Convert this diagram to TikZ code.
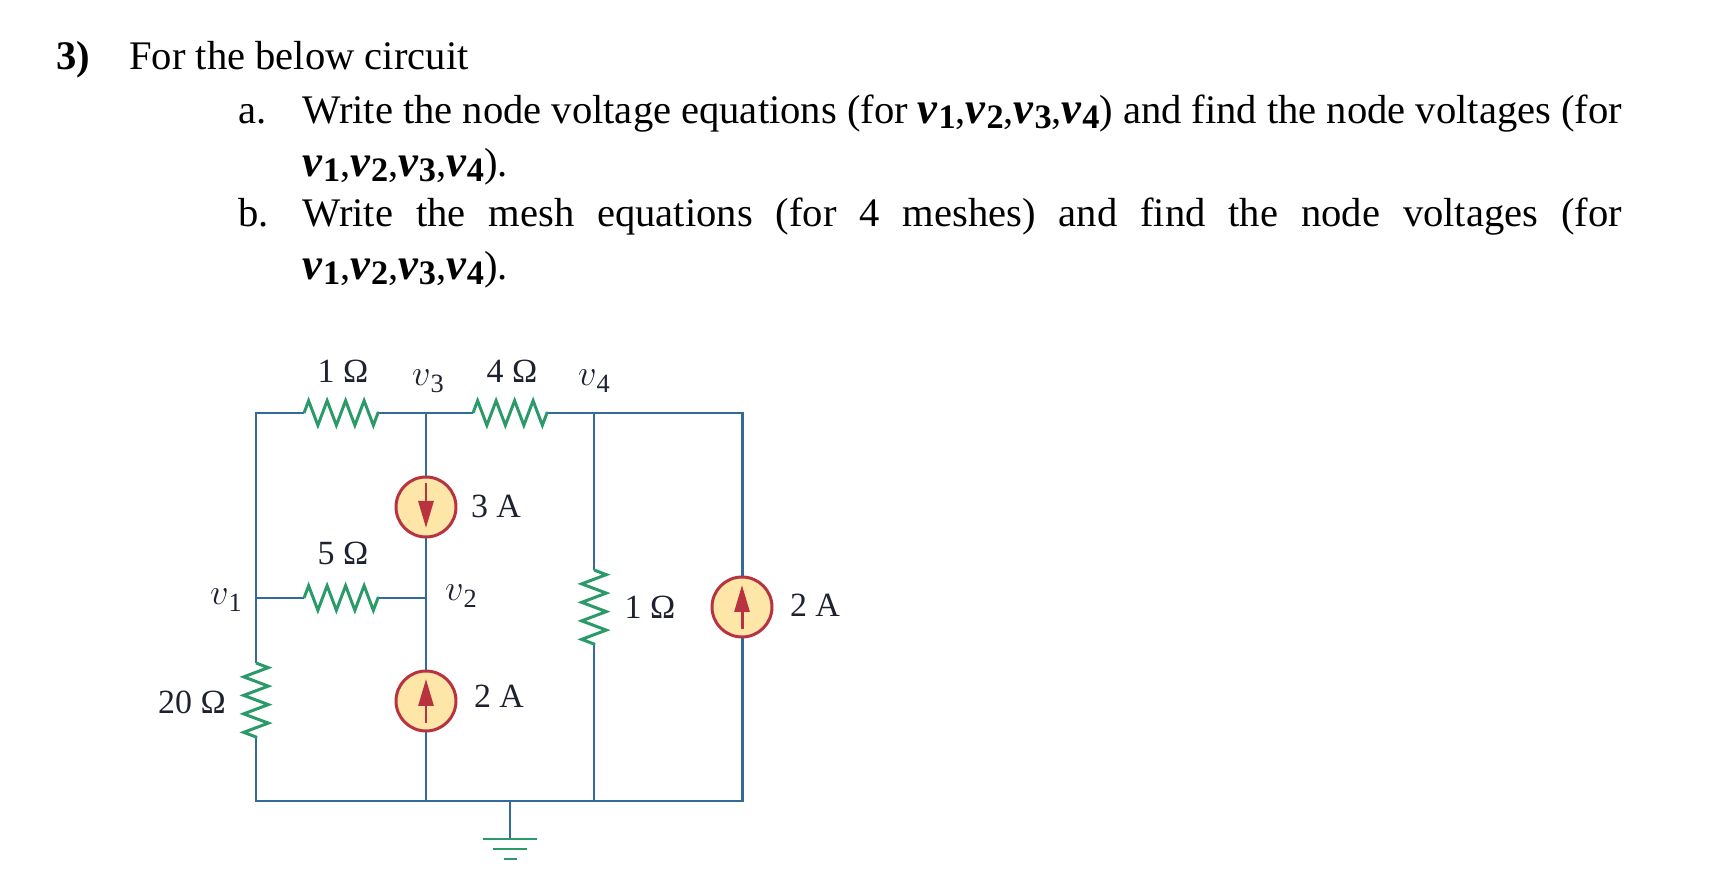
\documentclass[tikz,border=0pt]{standalone}
\usepackage{fontspec}
\setmainfont{Liberation Serif}
\usetikzlibrary{arrows.meta,decorations.pathmorphing}
\definecolor{wireblue}{HTML}{336A98}
\definecolor{resgreen}{HTML}{2A9A68}
\definecolor{srcred}{HTML}{B8323F}
\definecolor{srcfill}{HTML}{FDE6A8}
\definecolor{labelink}{HTML}{1E2230}
\newcommand{\bv}[1]{{\bfseries\itshape{\fontsize{25.5}{27}\selectfont v}\hspace{0.02em}\raisebox{-0.1em}{\fontsize{19.5}{20}\selectfont\upshape #1}}}
\newcommand{\bvlist}{\bv{1},\bv{2},\bv{3},\bv{4}}
\newcommand{\nv}[1]{$v$\raisebox{-0.2em}{\fontsize{15}{16}\selectfont #1}}
\tikzset{
  probtext/.style={anchor=base west, inner sep=0pt, font=\fontsize{23.1}{27}\selectfont},
  cirlabel/.style={inner sep=0pt, text=labelink, font=\fontsize{19.3}{22}\selectfont},
  wire/.style={draw=wireblue, line width=1.7pt},
  resistor/.style={draw=resgreen, line width=1.7pt, decorate,
    decoration={zigzag, segment length=0.37cm, amplitude=0.246cm}},
  isrc/.style={circle, draw=srcred, fill=srcfill, line width=1.7pt, minimum size=1.2cm, inner sep=0pt},
  srcarrow/.style={draw=srcred, fill=srcred, line width=1.7pt, -{Triangle[length=0.54cm, width=0.3cm]}},
  gndbar/.style={draw=resgreen, line width=1.7pt}
}
\begin{document}
\begin{tikzpicture}[x=0.02cm, y=-0.02cm]
   \useasboundingbox (0,0) rectangle (1732,884);
   % question text
   \node[probtext, font=\fontsize{23.1}{27}\selectfont\bfseries] (qnum) at (56,70) {3)};
   \node[probtext] (qhead) at (129,70) {For the below circuit};
   \node[probtext] (amark) at (238,124) {a.};
   \node[probtext] (aline) at (302,124) {\makebox[26.4cm][s]{Write the node voltage equations (for \bvlist) and find the node voltages (for}};
   \node[probtext] (alist) at (302,177) {\bvlist).};
   \node[probtext] (bmark) at (238,227) {b.};
   \node[probtext] (bline) at (302,227) {\makebox[26.4cm][s]{Write the mesh equations (for 4 meshes) and find the node voltages (for}};
   \node[probtext] (blist) at (302,280) {\bvlist).};
   % circuit junctions
   \coordinate (tl) at (256,413);
   \coordinate (n3) at (426,413);
   \coordinate (n4) at (594,413);
   \coordinate (tr) at (742,413);
   \coordinate (n1) at (256,598);
   \coordinate (n2) at (426,598);
   \coordinate (bl) at (256,801);
   \coordinate (bm) at (426,801);
   \coordinate (bg) at (510,801);
   \coordinate (bn) at (594,801);
   \coordinate (br) at (742,801);
   % resistor ends
   \coordinate (r1a) at (304,413);
   \coordinate (r1b) at (379,413);
   \coordinate (r4a) at (473,413);
   \coordinate (r4b) at (548,413);
   \coordinate (r5a) at (304,598);
   \coordinate (r5b) at (379,598);
   \coordinate (r20a) at (256,663);
   \coordinate (r20b) at (256,738);
   \coordinate (r1va) at (594,570);
   \coordinate (r1vb) at (594,645);
   % sources
   \node[isrc] (sa) at (426,507) {};
   \node[isrc] (sb) at (426,701) {};
   \node[isrc] (sc) at (742,607) {};
   % wires
   \draw[wire] (r1a) -- (tl) -- (r20a);
   \draw[wire] (r20b) -- (bl) -- (br) -- (sc);
   \draw[wire] (sc) -- (tr) -- (r4b);
   \draw[wire] (r1b) -- (r4a);
   \draw[wire] (n1) -- (r5a);
   \draw[wire] (r5b) -- (n2);
   \draw[wire] (n3) -- (sa);
   \draw[wire] (sa) -- (sb);
   \draw[wire] (sb) -- (bm);
   \draw[wire] (n4) -- (r1va);
   \draw[wire] (r1vb) -- (bn);
   % resistors
   \draw[resistor] (r1a) -- (r1b);
   \draw[resistor] (r4a) -- (r4b);
   \draw[resistor] (r5a) -- (r5b);
   \draw[resistor] (r20a) -- (r20b);
   \draw[resistor] (r1va) -- (r1vb);
   % source arrows
   \draw[srcarrow] ([yshift=0.48cm]sa.center) -- ([yshift=-0.42cm]sa.center);
   \draw[srcarrow] ([yshift=-0.44cm]sb.center) -- ([yshift=0.44cm]sb.center);
   \draw[srcarrow] ([yshift=-0.44cm]sc.center) -- ([yshift=0.44cm]sc.center);
   % ground
   \coordinate (ga) at (510,839);
   \draw[wire] (bg) -- (ga);
   \draw[gndbar] ([xshift=-0.54cm]ga) -- ([xshift=0.54cm]ga);
   \draw[gndbar] ([xshift=-0.34cm,yshift=-0.2cm]ga) -- ([xshift=0.34cm,yshift=-0.2cm]ga);
   \draw[gndbar] ([xshift=-0.13cm,yshift=-0.4cm]ga) -- ([xshift=0.13cm,yshift=-0.4cm]ga);
   % labels
   \node[cirlabel] (l1) at (343,371) {1 Ω};
   \node[cirlabel] (l4) at (512,371) {4 Ω};
   \node[cirlabel] (l5) at (343,553) {5 Ω};
   \node[cirlabel] (l20) at (192,702) {20 Ω};
   \node[cirlabel] (l1v) at (650,607) {1 Ω};
   \node[cirlabel] (l3a) at (496,506) {3 A};
   \node[cirlabel] (l2a) at (499,696) {2 A};
   \node[cirlabel] (l2b) at (815,605) {2 A};
   \node[cirlabel] (v1) at (226,600) {\nv{1}};
   \node[cirlabel] (v2) at (461,596) {\nv{2}};
   \node[cirlabel] (v3) at (428,381) {\nv{3}};
   \node[cirlabel] (v4) at (594,381) {\nv{4}};
\end{tikzpicture}
\end{document}
